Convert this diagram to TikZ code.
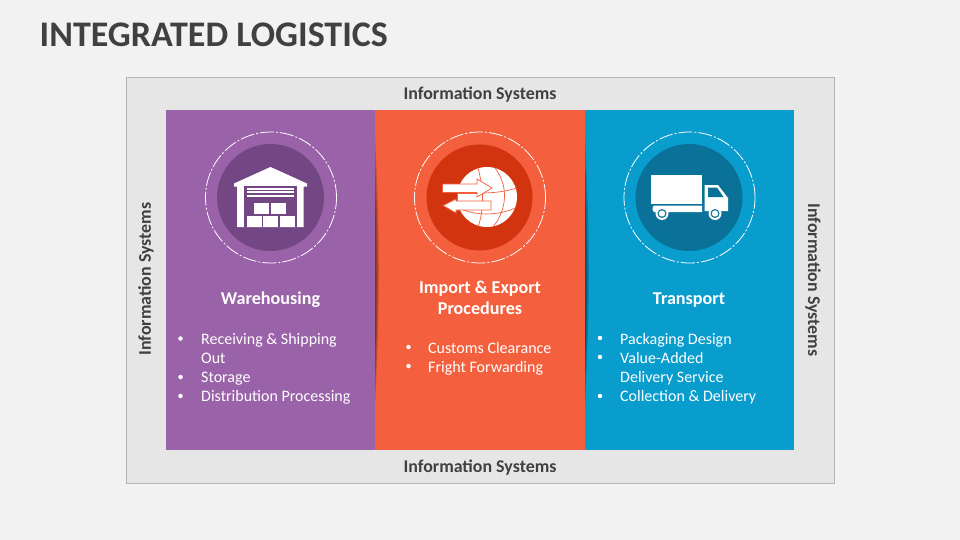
\documentclass[tikz,border=0pt]{standalone}
\usepackage{fontspec}
\setmainfont{Carlito}
\usetikzlibrary{calc, positioning}
\definecolor{pagegray}{HTML}{F2F2F2}
\definecolor{framegray}{HTML}{E6E6E6}
\definecolor{frameline}{HTML}{B4B4B4}
\definecolor{titlegray}{HTML}{404040}
\definecolor{wareviolet}{HTML}{9A62A8}
\definecolor{waredark}{HTML}{724783}
\definecolor{importred}{HTML}{F45F3D}
\definecolor{importdark}{HTML}{D2340F}
\definecolor{transblue}{HTML}{099DCD}
\definecolor{transdark}{HTML}{0A7299}
\tikzset{
    panel/.style={minimum height=340pt,inner sep=0pt,anchor=north west},
    sysLabel/.style={font=\fontsize{17.9}{18}\selectfont\bfseries,text=titlegray,inner sep=0pt},
    headLabel/.style={font=\fontsize{18.1}{21}\selectfont\bfseries,text=white,align=center,inner sep=0pt},
    itemLabel/.style={font=\fontsize{16}{19}\selectfont,text=white,align=left,inner sep=0pt,anchor=north west},
    dotMark/.style={circle,fill=white,minimum size=4.5pt,inner sep=0pt},
    ringLine/.style={draw=white,line width=0.8pt,dash pattern=on 14pt off 2pt on 2pt off 2pt},
    edgeShade/.style={fill=black,fill opacity=0.18},
}
\begin{document}
\begin{tikzpicture}[x=1pt,y=-1pt]
        \useasboundingbox (0,0) rectangle (960,540);
        \fill[pagegray] (0,0) rectangle (960,540);
        \node[font=\fontsize{36}{36}\selectfont\bfseries,text=titlegray,inner sep=0pt,anchor=west] (title) at (39.5,35) {INTEGRATED LOGISTICS};

        % outer frame
        \node[draw=frameline,fill=framegray,line width=0.6pt,minimum width=708pt,minimum height=405.5pt,inner sep=0pt,anchor=north west] (frame) at (126,77.5) {};
        \node[sysLabel] (sysTop) at (480,94.5) {Information Systems};
        \node[sysLabel] (sysBottom) at (480,467.5) {Information Systems};
        \node[sysLabel,rotate=90] (sysLeft) at (146,279) {Information Systems};
        \node[sysLabel,rotate=-90] (sysRight) at (813,280) {Information Systems};

        % three panels
        \node[panel,fill=wareviolet,minimum width=209pt] (ware) at (166,110) {};
        \node[panel,fill=importred,minimum width=210pt] (import) at (375,110) {};
        \node[panel,fill=transblue,minimum width=209pt] (trans) at (585,110) {};
        \fill[edgeShade] (375,138) .. controls (380,230) and (380,310) .. (375,405) -- cycle;
        \fill[edgeShade] (375,160) .. controls (378.5,240) and (378.5,310) .. (375,390) -- cycle;
        \fill[edgeShade] (375,185) .. controls (377,250) and (377,310) .. (375,370) -- cycle;
        \fill[edgeShade] (585,138) .. controls (590,230) and (590,310) .. (585,405) -- cycle;
        \fill[edgeShade] (585,160) .. controls (588.5,240) and (588.5,310) .. (585,390) -- cycle;
        \fill[edgeShade] (585,185) .. controls (587,250) and (587,310) .. (585,370) -- cycle;

        % badges
        \node[circle,fill=waredark,minimum size=107pt,inner sep=0pt] (wareDisc) at (270.5,197.5) {};
        \node[circle,ringLine,minimum size=131pt,inner sep=0pt] (wareRing) at (271,197.5) {};
        \node[circle,fill=importdark,minimum size=106pt,inner sep=0pt] (importDisc) at (479.5,197.5) {};
        \node[circle,ringLine,minimum size=131pt,inner sep=0pt] (importRing) at (480,197.5) {};
        \node[circle,fill=transdark,minimum size=107pt,inner sep=0pt] (transDisc) at (689,197.5) {};
        \node[circle,ringLine,minimum size=131pt,inner sep=0pt] (transRing) at (689.5,197.5) {};

        % warehouse icon
        \fill[white] (234,183.5) -- (270.5,167) -- (307,183.5) -- (307,186.5) -- (303.5,186.5) -- (303.5,227) -- (237,227) -- (237,186.5) -- (234,186.5) -- cycle;
        \fill[waredark] (244,186) rectangle (296.5,227);
        \fill[white] (246.5,187.5) rectangle (294,189.8);
        \fill[white] (246.5,191.2) rectangle (294,193.3);
        \fill[white] (246.5,195) rectangle (294,197);
        \fill[white] (253.5,203) rectangle (268.5,214);
        \fill[white] (270.5,203) rectangle (285.5,214);
        \fill[white] (246.5,216) rectangle (261.5,227);
        \fill[white] (263,216) rectangle (278,227);
        \fill[white] (280,216) rectangle (295,227);

        % globe icon
        \fill[white] (487,197) circle (30);
        \draw[importred,line width=0.7pt] (478,168) .. controls (484,190) and (484,210) .. (478,227);
        \draw[importred,line width=0.7pt] (495,168) .. controls (508,185) and (508,208) .. (493,227);
        \draw[importred,line width=0.7pt] (482,193) .. controls (495,193) and (508,191) .. (517,188);
        \draw[importred,line width=0.7pt] (463,210) .. controls (480,216) and (500,215) .. (515,208);
        \fill[white,draw=importred,line width=0.7pt] (457,193) rectangle (482,201);
        \fill[white,draw=importred,line width=0.7pt] (442.5,184) -- (477,184) -- (477,179) -- (492,188) -- (477,197) -- (477,192.5) -- (442.5,192.5) -- cycle;
        \fill[white,draw=importred,line width=0.7pt] (491,201) -- (456,201) -- (456,199) -- (443,205.5) -- (456,213) -- (456,210) -- (491,210) -- cycle;

        % truck icon
        \fill[white] (651,175) rectangle (702,203.5);
        \fill[white] (654,205.5) -- (702,205.5) -- (702,212) -- (654,212) .. controls (652,211) and (652,206.5) .. (654,205.5) -- cycle;
        \fill[white] (704.5,185) -- (718,185) -- (728,198) -- (728,211) -- (704.5,211) -- cycle;
        \fill[transdark] (708,187.5) -- (717,187.5) -- (723.5,197) -- (708,197) -- cycle;
        \fill[white] (662,213.5) circle (6.5);
        \fill[transdark] (662,213.5) circle (4.5);
        \fill[white] (662,213.5) circle (3.2);
        \fill[white] (715,213.5) circle (6.5);
        \fill[transdark] (715,213.5) circle (4.5);
        \fill[white] (715,213.5) circle (3.2);

        % headings
        \node[headLabel] (wareHead) at (270.5,299.5) {Warehousing};
        \node[headLabel] (importHead) at (480,297.5) {Import \& Export\\Procedures};
        \node[headLabel] (transHead) at (689,300) {Transport};

        % bullet lists
        \node[dotMark] (wareDotA) at (180.5,338.5) {};
        \node[dotMark] (wareDotB) at (180.5,377) {};
        \node[dotMark] (wareDotC) at (180.5,396) {};
        \node[itemLabel] (wareItems) at (201,333.5) {Receiving \& Shipping\\Out\\Storage\\Distribution Processing};
        \node[dotMark] (importDotA) at (408.5,347) {};
        \node[dotMark] (importDotB) at (408.5,366) {};
        \node[itemLabel] (importItems) at (428,342.5) {Customs Clearance\\Fright Forwarding};
        \node[dotMark] (transDotA) at (600,338) {};
        \node[dotMark] (transDotB) at (600,357) {};
        \node[dotMark] (transDotC) at (600,396) {};
        \node[itemLabel] (transItems) at (620,333.5) {Packaging Design\\Value-Added\\Delivery Service\\Collection \& Delivery};
    \end{tikzpicture}
\end{document}
